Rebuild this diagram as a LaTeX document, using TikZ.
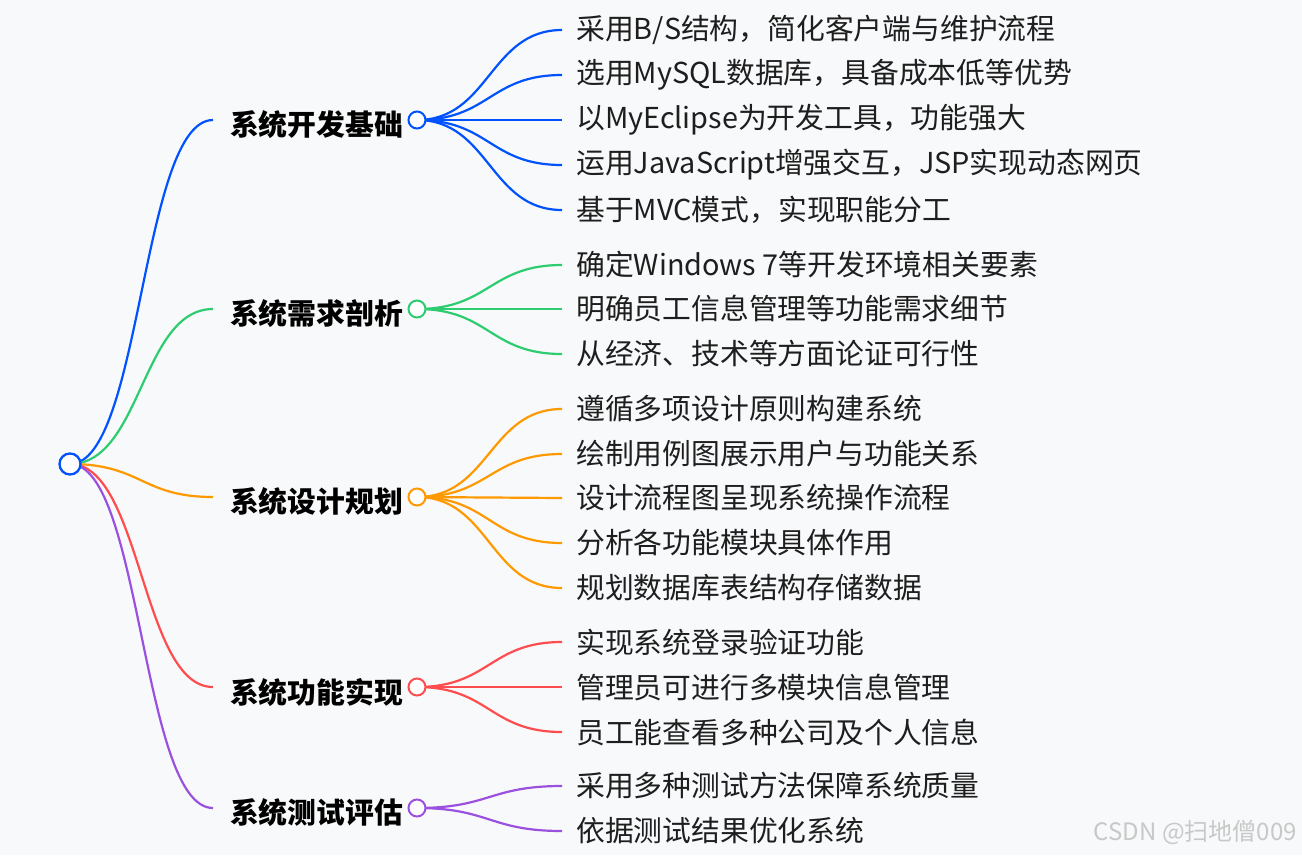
\documentclass[tikz,border=0pt]{standalone}
\usepackage{fontspec}
\setmainfont{Noto Sans CJK SC}
\usetikzlibrary{calc}
\definecolor{bgc}{RGB}{248,249,250}
\definecolor{cblue}{RGB}{0,82,255}
\definecolor{cgreen}{RGB}{46,204,113}
\definecolor{corange}{RGB}{255,153,0}
\definecolor{cred}{RGB}{255,77,79}
\definecolor{cpurple}{RGB}{155,81,224}
\definecolor{txt}{RGB}{30,30,30}
\definecolor{wmc}{RGB}{200,200,200}
\pgfdeclarelayer{back}
\pgfdeclarelayer{links}
\pgfsetlayers{back,links,main}
\newcommand\mmlink[3]{\begin{pgfonlayer}{links}\draw[#1, line width=2.2pt] let \p1=(#2), \p2=(#3) in (\p1) .. controls ({(\x1+\x2)/2},\y1) and ({(\x1+\x2)/2},\y2) .. (\p2);\end{pgfonlayer}}
\tikzset{
  leaf/.style={anchor=west, inner xsep=14pt, inner ysep=0pt, font=\fontsize{28.8}{30}\selectfont, text=txt},
  cat/.style={anchor=east, inner sep=0pt, font=\fontsize{28.8}{30}\selectfont\bfseries, text=black},
  dot/.style={circle, draw=#1, fill=white, line width=2pt, minimum size=17pt, inner sep=0pt},
  rootdot/.style={circle, draw=cblue, fill=white, line width=2.3pt, minimum size=21pt, inner sep=0pt},
}
\begin{document}
\begin{tikzpicture}[x=1pt,y=-1pt]
\begin{pgfonlayer}{back}
\fill[bgc] (0,0) rectangle (1302,855);
\end{pgfonlayer}
\useasboundingbox (0,0) rectangle (1302,855);

% root
\node[rootdot] (root) at (70,464) {};

% categories
\node[dot=cblue] (c1) at (417,120) {};
\node[dot=cgreen] (c2) at (417,309) {};
\node[dot=corange] (c3) at (417,497) {};
\node[dot=cred] (c4) at (417,687) {};
\node[dot=cpurple] (c5) at (417,808) {};
\node[cat] (t1) at (403,125) {系统开发基础};
\node[cat] (t2) at (403,314) {系统需求剖析};
\node[cat] (t3) at (403,502) {系统设计规划};
\node[cat] (t4) at (403,692) {系统功能实现};
\node[cat] (t5) at (403,813) {系统测试评估};
\coordinate (e1) at (213,120);
\coordinate (e2) at (213,309);
\coordinate (e3) at (213,497);
\coordinate (e4) at (213,687);
\coordinate (e5) at (213,808);

\mmlink{cblue}{root.center}{e1}
\mmlink{cgreen}{root.center}{e2}
\mmlink{corange}{root.center}{e3}
\mmlink{cred}{root.center}{e4}
\mmlink{cpurple}{root.center}{e5}

% group 1
\node[leaf] (l11) at (562,30) {采用B/S结构，简化客户端与维护流程};
\node[leaf] (l12) at (562,75) {选用MySQL数据库，具备成本低等优势};
\node[leaf] (l13) at (562,120) {以MyEclipse为开发工具，功能强大};
\node[leaf] (l14) at (562,165) {运用JavaScript增强交互，JSP实现动态网页};
\node[leaf] (l15) at (562,210) {基于MVC模式，实现职能分工};
\foreach \i in {1,...,5}{\mmlink{cblue}{c1.center}{l1\i.west}}

% group 2
\node[leaf] (l21) at (562,265) {确定Windows 7等开发环境相关要素};
\node[leaf] (l22) at (562,309) {明确员工信息管理等功能需求细节};
\node[leaf] (l23) at (562,354) {从经济、技术等方面论证可行性};
\foreach \i in {1,...,3}{\mmlink{cgreen}{c2.center}{l2\i.west}}

% group 3
\node[leaf] (l31) at (562,409) {遵循多项设计原则构建系统};
\node[leaf] (l32) at (562,454) {绘制用例图展示用户与功能关系};
\node[leaf] (l33) at (562,498) {设计流程图呈现系统操作流程};
\node[leaf] (l34) at (562,543) {分析各功能模块具体作用};
\node[leaf] (l35) at (562,588) {规划数据库表结构存储数据};
\foreach \i in {1,...,5}{\mmlink{corange}{c3.center}{l3\i.west}}

% group 4
\node[leaf] (l41) at (562,642) {实现系统登录验证功能};
\node[leaf] (l42) at (562,687) {管理员可进行多模块信息管理};
\node[leaf] (l43) at (562,732) {员工能查看多种公司及个人信息};
\foreach \i in {1,...,3}{\mmlink{cred}{c4.center}{l4\i.west}}

% group 5
\node[leaf] (l51) at (562,786) {采用多种测试方法保障系统质量};
\node[leaf] (l52) at (562,831) {依据测试结果优化系统};
\foreach \i in {1,...,2}{\mmlink{cpurple}{c5.center}{l5\i.west}}

% watermark
\node[anchor=east, inner sep=0pt, text=wmc, font=\fontsize{24}{26}\selectfont] (wm) at (1297,832) {CSDN @扫地僧009};
\end{tikzpicture}
\end{document}
